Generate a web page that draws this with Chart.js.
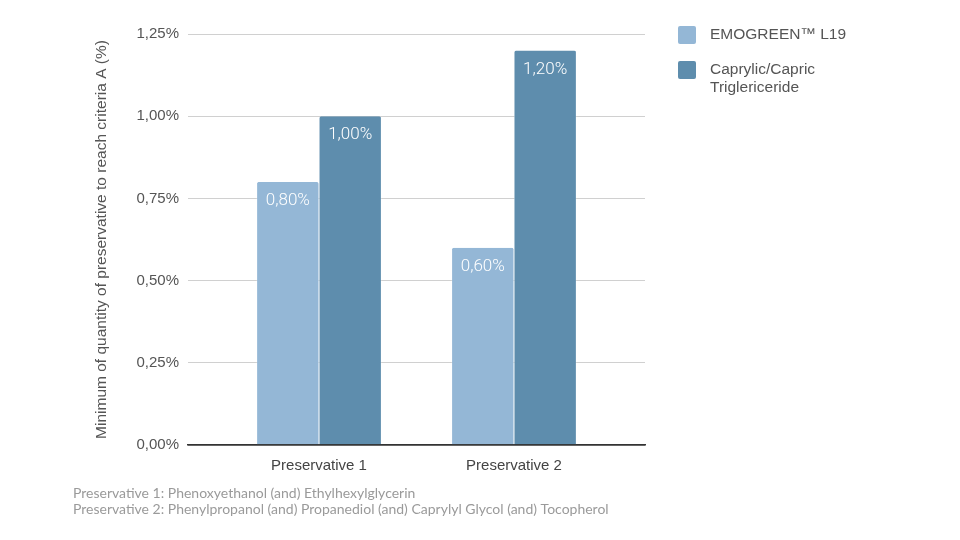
<!DOCTYPE html>
<html>
<head>
<meta charset="utf-8">
<script src="https://cdn.jsdelivr.net/npm/chart.js@4.4.0/dist/chart.umd.min.js"></script>
<style>
  html, body { margin: 0; padding: 0; background: #fff; }
  #wrap { position: relative; width: 960px; height: 540px; }
</style>
</head>
<body>
<div id="wrap"><canvas id="chart" width="960" height="540"></canvas></div>
<script>
const categories = ["Preservative 1", "Preservative 2"]
const emogreenValues = [0.80, 0.60]
const caprylicValues = [1.00, 1.20]
const seriesNames = [["EMOGREEN\u2122 L19"], ["Caprylic/Capric", "Triglericeride"]]
const seriesColors = ["#94b7d6", "#5e8dad"]
const footnotes = [
  "Preservative 1: Phenoxyethanol (and) Ethylhexylglycerin",
  "Preservative 2: Phenylpropanol (and) Propanediol (and) Caprylyl Glycol (and) Tocopherol"
]

const fmt = v => v.toFixed(2).replace(".", ",") + "%"
const SANS = "'Liberation Sans', Arial, sans-serif"

// white value labels inside the top of each bar
const valueLabels = {
  id: "valueLabels",
  afterDatasetsDraw(chart) {
    const ctx = chart.ctx
    ctx.save()
    ctx.font = "300 17px Roboto"
    ctx.fillStyle = "#ffffff"
    ctx.textAlign = "center"
    ctx.textBaseline = "middle"
    chart.data.datasets.forEach((ds, i) => {
      chart.getDatasetMeta(i).data.forEach((bar, j) => {
        ctx.fillText(fmt(ds.data[j]), bar.x, bar.y + 19)
      })
    })
    ctx.restore()
  }
}

// legend on the right plus the footnote lines
const sideText = {
  id: "sideText",
  afterDraw(chart) {
    const ctx = chart.ctx
    ctx.save()
    const tops = [26, 61]
    chart.data.datasets.forEach((ds, i) => {
      ctx.fillStyle = ds.backgroundColor
      ctx.beginPath()
      ctx.roundRect(678, tops[i], 18, 18, 2)
      ctx.fill()
      ctx.fillStyle = "#555"
      ctx.font = "15.5px " + SANS
      ctx.textAlign = "left"
      ctx.textBaseline = "middle"
      seriesNames[i].forEach((line, k) => ctx.fillText(line, 710, tops[i] + 9 + k * 18))
    })
    ctx.font = "14px Lato"
    ctx.fillStyle = "#9a9a9a"
    footnotes.forEach((line, k) => ctx.fillText(line, 73, 493 + k * 16))
    ctx.restore()
  }
}

new Chart(document.getElementById("chart"), {
  type: "bar",
  data: {
    labels: categories,
    datasets: [
      { label: seriesNames[0].join(" "), data: emogreenValues, backgroundColor: seriesColors[0] },
      { label: seriesNames[1].join(" "), data: caprylicValues, backgroundColor: seriesColors[1] }
    ]
  },
  options: {
    responsive: false,
    animation: false,
    layout: { padding: { left: 84, right: 315, top: 34, bottom: 0 } },
    datasets: {
      bar: {
        barPercentage: 1,
        categoryPercentage: 0.64,
        borderRadius: { topLeft: 2, topRight: 2 },
        borderSkipped: "bottom",
        borderColor: "#ffffff",
        borderWidth: { left: 0.5, right: 0.5 }
      }
    },
    plugins: { legend: { display: false }, tooltip: { enabled: false } },
    scales: {
      x: {
        afterFit: s => { s.height = 95 },
        afterBuildTicks: s => { s._startValue = -0.672; s._valueRange = 2.344 },
        grid: { display: false, drawTicks: false },
        border: { display: true, color: "#333", width: 1.5 },
        ticks: { color: "#444", font: { family: SANS, size: 15 }, padding: 12 }
      },
      y: {
        min: 0,
        max: 1.25,
        afterFit: s => { s.width = 104 },
        border: { display: false },
        grid: {
          drawTicks: false,
          color: c => c.tick.value === 0 ? "#333" : "#d0d0d0",
          lineWidth: c => c.tick.value === 0 ? 1.5 : 1
        },
        ticks: {
          stepSize: 0.25,
          padding: 9,
          color: "#555",
          font: { family: SANS, size: 15 },
          callback: v => fmt(v)
        },
        title: {
          display: true,
          text: "Minimum of quantity of preservative to reach criteria A (%)",
          color: "#555",
          font: { family: SANS, size: 15.5 },
          padding: { top: 8, bottom: 0 }
        }
      }
    }
  },
  plugins: [valueLabels, sideText]
})
</script>
</body>
</html>
